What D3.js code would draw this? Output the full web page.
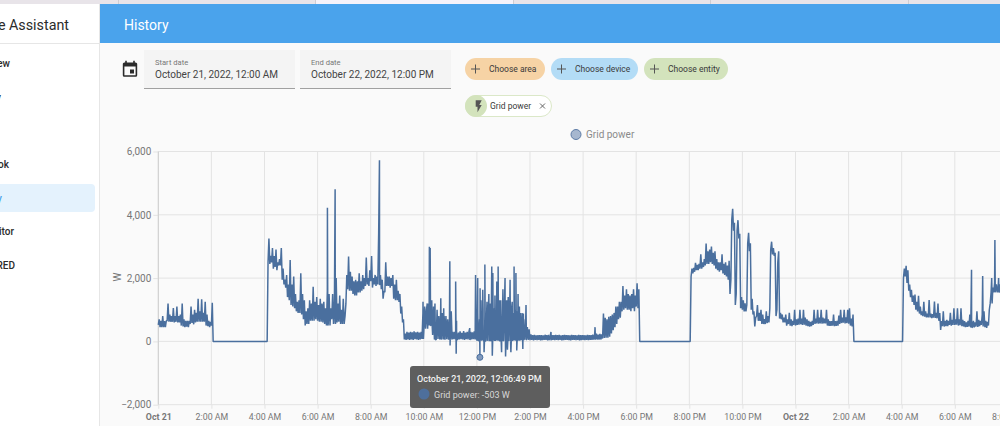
<!DOCTYPE html>
<html>
<head>
<meta charset="utf-8">
<title>History</title>
<script src="https://cdn.jsdelivr.net/npm/d3@7/dist/d3.min.js"></script>
<style>
  html, body { margin: 0; padding: 0; background: #fafafa; overflow: hidden; }
  svg { display: block; font-family: Roboto, sans-serif; }
</style>
</head>
<body>
<svg id="page" width="1000" height="426"></svg>
<script>
// Grid power in watts, reduced to the highest and lowest reading of each
// four-minute bucket; one row per hour starting at Oct 21 00:00.
const gridHigh = [
  700,650,800,640,650,1200,850,800,1050,800,1100,800,850,1200,700,
  650,650,650,1100,850,1000,900,1350,950,1330,900,1250,850,650,620,
  1220,0,0,0,0,0,0,0,0,0,0,0,0,0,0,
  0,0,0,0,0,0,0,0,0,0,0,0,0,0,0,
  0,0,3250,2700,2950,2700,2900,2500,2600,2950,2300,1950,2100,1800,2570,
  1800,2050,1500,1250,1300,2150,1500,1300,950,1050,1300,1200,1730,1250,1400,
  1150,1350,1200,1250,1050,1600,1500,1050,1500,1200,2000,1200,1450,1000,1350,
  800,2100,2680,2200,2050,1900,1950,1900,2150,1900,2100,2000,2650,2000,2250,
  2700,2000,2100,2050,3400,2100,1950,1600,2500,2050,2050,2000,2100,1800,1950,
  1600,1500,1100,700,250,300,280,300,290,320,290,300,280,300,900,
  1100,1000,1200,1100,1200,1100,350,1000,800,850,900,800,800,700,700,
  950,300,300,650,280,320,270,330,280,300,310,300,290,320,450,
  900,700,800,1000,850,900,950,1000,950,1050,950,1100,1000,1000,950,
  1000,950,1000,950,1000,900,1000,950,1000,900,900,700,500,450,380,
  220,200,210,190,200,195,200,190,210,195,205,190,200,195,205,
  195,205,190,200,210,195,200,190,205,195,200,190,210,200,195,
  200,190,205,195,200,210,195,250,210,240,220,880,750,700,780,
  800,850,900,1100,1100,1250,1250,1750,1450,1650,1500,1450,1500,1650,1450,
  1840,1650,0,0,0,0,0,0,0,0,0,0,0,0,0,
  0,0,0,0,0,0,0,0,0,0,0,0,0,0,0,
  0,2300,2320,2480,2420,2450,2750,2500,2600,3090,2850,2900,3000,2800,2850,
  2600,2500,2500,2750,2450,2500,2400,2550,1950,4190,3750,1500,3830,3400,1400,
  1300,1200,1150,3430,3100,1350,950,750,1150,900,1000,850,700,950,800,
  1050,3150,2950,2800,1000,2850,900,850,750,850,700,900,700,650,1000,
  700,720,1000,720,1000,750,700,650,620,650,1000,720,1000,750,1000,
  750,720,1000,700,640,640,850,640,650,820,1000,750,1000,760,1000,
  1050,720,850,0,0,0,0,0,0,0,0,0,0,0,0,
  0,0,0,0,0,0,0,0,0,0,0,0,0,0,0,
  0,2300,2390,2250,1800,1630,1450,1480,1250,1440,1100,950,1250,950,880,
  1310,880,860,1260,900,1200,900,640,950,650,680,650,900,680,1050,
  700,1050,700,1050,680,640,600,650,850,620,650,600,950,680,650,
  850,950,650,620,1000,1550,1700,1850,1800,1700,1800,1700,1650,1750,1750
];
const gridLow = [
  520,450,450,450,450,650,620,620,620,600,620,600,600,500,470,
  450,470,450,550,580,540,600,620,620,620,620,620,500,480,450,
  500,0,0,0,0,0,0,0,0,0,0,0,0,0,0,
  0,0,0,0,0,0,0,0,0,0,0,0,0,0,0,
  0,0,2500,2450,2500,2300,2350,2250,2400,2400,1950,1800,1700,1400,1300,
  1150,1100,1050,950,900,900,850,700,500,550,550,650,650,650,700,
  650,620,620,600,550,500,550,500,700,550,600,600,620,550,550,
  550,1200,1650,1600,1600,1500,1450,1450,1550,1550,1600,1650,1750,1800,1750,
  1900,1700,1800,1750,1800,1800,1650,1350,1550,1750,1750,1700,1750,1350,1300,
  1300,1250,880,600,60,50,60,50,60,50,70,60,50,60,80,
  300,400,550,500,500,200,60,50,80,60,80,60,50,70,50,
  60,60,70,60,50,60,70,60,50,70,60,50,60,70,60,
  20,30,20,40,0,20,30,10,30,20,10,30,20,0,20,
  20,30,20,10,30,20,30,20,30,20,40,40,50,50,50,
  40,50,35,45,40,50,35,40,45,50,35,40,45,50,40,
  45,40,50,35,40,45,50,40,35,45,50,40,45,35,40,
  45,40,50,40,45,50,55,60,60,55,60,90,110,120,120,
  150,250,350,450,550,700,750,950,1000,1050,1000,1000,950,1050,950,
  1100,1050,0,0,0,0,0,0,0,0,0,0,0,0,0,
  0,0,0,0,0,0,0,0,0,0,0,0,0,0,0,
  0,2050,2150,2200,2250,2250,2300,2300,2350,2400,2450,2450,2500,2450,2400,
  2300,2250,2200,2250,2150,2100,2050,1950,1500,3850,3500,1150,3500,3250,1050,
  1000,950,950,3100,2850,1000,850,470,800,650,650,550,550,550,580,
  600,2900,2750,2700,800,2500,720,700,600,600,500,550,500,480,520,
  500,520,530,540,520,530,500,480,470,480,520,550,570,560,570,
  560,570,570,500,490,490,500,480,490,500,550,580,590,570,580,
  560,500,470,0,0,0,0,0,0,0,0,0,0,0,0,
  0,0,0,0,0,0,0,0,0,0,0,0,0,0,0,
  0,2000,2050,1850,1600,1400,1250,1150,1000,950,880,830,800,780,760,
  760,760,740,750,740,730,650,360,480,470,480,480,520,500,520,
  520,530,500,510,480,470,450,460,470,440,450,440,470,460,480,
  520,470,450,430,500,1200,1550,1550,1600,1550,1550,1500,1450,1500,1550
];
const bucketsPerHour = 15;

// Short surges and dips that stand out from their bucket: [hour, watts].
const transients = [
  [6.37,4220],[6.66,4810],[8.33,5720],
  [9.97,1250],[10.13,1200],[10.21,2990],[10.24,2950],[10.30,1300],[10.42,1200],[10.64,1360],
  [10.75,1050],[10.98,2530],[10.99,-130],
  [11.20,1890],[11.22,-390],[11.73,420],
  [11.95,2100],[12.03,2000],[12.12,1680],[12.114,-503],[12.15,1300],[12.22,1630],[12.27,-340],[12.30,2430],
  [12.38,1250],[12.45,1500],[12.50,1200],[12.56,2370],[12.58,-450],[12.60,2160],[12.68,1450],[12.75,1890],
  [12.80,2370],[12.85,1300],[12.90,1300],[12.93,-340],[12.98,1650],[13.06,2000],[13.08,-480],[13.12,1300],
  [13.15,-260],[13.18,1400],[13.25,1950],[13.28,-340],[13.33,1250],[13.40,2370],[13.47,2160],[13.50,-290],
  [13.55,1500],[13.60,1100],[13.73,-240],[13.75,880],[13.85,1150],
  [14.79,300],[16.45,450],
  [30.63,2260],[31.05,2070],[31.39,2000],[31.51,3200],[31.65,2000]
];

const yTickValues = [-2000, 0, 2000, 4000, 6000];
const seriesName = "Grid power";
const hoverHour = 12 + 6 / 60 + 49 / 3600;
const hoverWatts = -503;
const hoverTitle = "October 21, 2022, 12:06:49 PM";

const sidebarItems = [["Overview", 10, 67], ["Energy", 1, 101], ["Logbook", 9, 168], ["History", 2, 202], ["File editor", 14, 235], ["Node-RED", 15, 269]];
const chipLabels = [
  ["Choose area", 465, 80, "#f6d3a5"],
  ["Choose device", 551, 87, "#b3dcf6"],
  ["Choose entity", 644, 84, "#d3e3bc"]
];
const dateFields = [
  ["Start date", "October 21, 2022, 12:00 AM", 144],
  ["End date", "October 22, 2022, 12:00 PM", 300]
];
const browserTabEdges = [118, 315, 513, 710, 908];

const lineColor = "#4a6f9e";
const gridColor = "#e3e3e3";
const svg = d3.select("#page");

/* ---------- application frame ---------- */
svg.append("rect").attr("width", 1000).attr("height", 426).attr("fill", "#fafafa");
svg.append("rect").attr("width", 1000).attr("height", 4).attr("fill", "#e8e4e9");
svg.append("rect").attr("x", 315).attr("width", 198).attr("height", 4).attr("fill", "#f5f2fa");
svg.selectAll(".tabEdge").data(browserTabEdges).join("rect")
  .attr("x", d => d).attr("width", 1).attr("height", 4).attr("fill", "#cfcdd2");

svg.append("rect").attr("y", 4).attr("width", 99).attr("height", 422).attr("fill", "#fff");
svg.append("rect").attr("x", 99).attr("y", 4).attr("width", 1).attr("height", 422).attr("fill", "#e6e6e6");
svg.append("rect").attr("y", 43).attr("width", 99).attr("height", 1).attr("fill", "#e6e6e6");
svg.append("rect").attr("x", 100).attr("y", 4).attr("width", 900).attr("height", 39).attr("fill", "#4aa3ec");

svg.append("text").attr("x", 69).attr("y", 29.5).attr("text-anchor", "end")
  .attr("font-size", 14.3).attr("fill", "#2b2b2b").text("Home Assistant");
svg.append("text").attr("x", 124).attr("y", 29.5)
  .attr("font-size", 14).attr("fill", "#fff").text("History");

svg.append("rect").attr("x", -6).attr("y", 184).attr("width", 101).attr("height", 28)
  .attr("rx", 4).attr("fill", "#e4f2fd");
svg.selectAll(".navItem").data(sidebarItems).join("text")
  .attr("x", d => d[1]).attr("y", d => d[2]).attr("text-anchor", "end")
  .attr("font-size", 10).attr("font-weight", 500)
  .attr("fill", d => d[0] === "History" ? "#4aa3ec" : "#2b2b2b")
  .text(d => d[0]);

/* ---------- date pickers ---------- */
svg.append("path").attr("transform", "translate(120.4,60) scale(0.8)").attr("fill", "#2b2b2b")
  .attr("d", "M17 12h-5v5h5v-5zM16 1v2H8V1H6v2H5c-1.11 0-1.99.9-1.99 2L3 19c0 1.1.89 2 2 2h14c1.1 0 2-.9 2-2V5c0-1.1-.9-2-2-2h-1V1h-2zm3 18H5V8h14v11z");
dateFields.forEach(([label, value, x]) => {
  svg.append("rect").attr("x", x).attr("y", 50).attr("width", 151).attr("height", 38).attr("fill", "#f4f4f4");
  svg.append("rect").attr("x", x).attr("y", 88).attr("width", 151).attr("height", 1).attr("fill", "#a0a0a0");
  svg.append("text").attr("x", x + 11).attr("y", 65).attr("font-size", 7.6).attr("fill", "#777").text(label);
  svg.append("text").attr("x", x + 11).attr("y", 78).attr("font-size", 10).attr("fill", "#444").text(value);
});

/* ---------- target chips ---------- */
chipLabels.forEach(([label, x, w, color]) => {
  svg.append("rect").attr("x", x).attr("y", 58).attr("width", w).attr("height", 22).attr("rx", 11).attr("fill", color);
  svg.append("path").attr("d", `M${x + 6} 69h9M${x + 10.5} 64.5v9`).attr("stroke", "#555").attr("fill", "none");
  svg.append("text").attr("x", x + 24).attr("y", 71.5).attr("font-size", 8.5).attr("fill", "#3a3a3a").text(label);
});
svg.append("rect").attr("x", 465.5).attr("y", 95.5).attr("width", 86).attr("height", 21).attr("rx", 10.5)
  .attr("fill", "#fff").attr("stroke", "#dbe8c8");
svg.append("circle").attr("cx", 476).attr("cy", 106).attr("r", 11).attr("fill", "#d3e3bc");
svg.append("path").attr("transform", "translate(471.5,99) scale(0.6)").attr("fill", "#555")
  .attr("d", "M7 2v11h3v9l7-12h-4l4-8z");
svg.append("text").attr("x", 490).attr("y", 108.5).attr("font-size", 8.5).attr("fill", "#3a3a3a").text(seriesName);
svg.append("path").attr("d", "M540 103.5l5 5M545 103.5l-5 5").attr("stroke", "#666").attr("fill", "none");

/* ---------- chart ---------- */
const t0 = Date.UTC(2022, 9, 21);
const hourToDate = h => new Date(t0 + h * 3600e3);
const x = d3.scaleUtc().domain([hourToDate(0), hourToDate(36)]).range([158.3, 158.3 + 36 * 26.55]);
const y = d3.scaleLinear().domain([-2000, 6000]).range([404.7, 151.5]);
const plotBottom = y(-2000);

// Horizontal grid and value axis.
const yAxis = svg.append("g").attr("transform", "translate(158.3,0)")
  .call(d3.axisLeft(y).tickValues(yTickValues).tickSize(5).tickPadding(2).tickFormat(d3.format(",")));
yAxis.select(".domain").remove();
yAxis.selectAll("line").attr("stroke", gridColor);
yAxis.selectAll("text").attr("font-size", 10).attr("font-family", "Roboto, sans-serif").attr("fill", "#777");
svg.append("g").selectAll("line").data(yTickValues).join("line")
  .attr("x1", 158.3).attr("x2", 1000).attr("y1", d => y(d)).attr("y2", d => y(d))
  .attr("stroke", gridColor);

// Vertical grid and time axis; midnight ticks carry the bold date.
const timeTicks = d3.utcHour.every(2).range(hourToDate(0), hourToDate(33));
const hourLabel = d3.utcFormat("%-I:%M %p");
const dayLabel = d3.utcFormat("%b %-d");
const isMidnight = d => d.getUTCHours() === 0;
const xAxis = svg.append("g").attr("transform", `translate(0,${plotBottom})`)
  .call(d3.axisBottom(x).tickValues(timeTicks).tickSize(4).tickPadding(5)
    .tickFormat(d => isMidnight(d) ? dayLabel(d) : hourLabel(d)));
xAxis.select(".domain").remove();
xAxis.selectAll("line").attr("stroke", gridColor);
xAxis.selectAll("text").attr("font-size", 8.8).attr("font-family", "Roboto, sans-serif")
  .attr("fill", "#777").attr("font-weight", d => isMidnight(d) ? 700 : 400);
svg.append("g").selectAll("line").data(timeTicks).join("line")
  .attr("x1", d => x(d)).attr("x2", d => x(d)).attr("y1", 151.5).attr("y2", plotBottom)
  .attr("stroke", gridColor);
svg.append("line").attr("x1", 158.3).attr("x2", 158.3).attr("y1", 151.5).attr("y2", plotBottom).attr("stroke", "#cfcfcf");

svg.append("text").attr("transform", "translate(121,277) rotate(-90)").attr("text-anchor", "middle")
  .attr("font-size", 10).attr("fill", "#777").text("W");

// Legend above the plot.
svg.append("circle").attr("cx", 576).attr("cy", 134.5).attr("r", 5).attr("fill", "#a6b7cf").attr("stroke", "#5c7ba6");
svg.append("text").attr("x", 586).attr("y", 138).attr("font-size", 10).attr("fill", "#8a8a8a").text(seriesName);

// Each bucket contributes its low then its high; transients rise from the bucket's low and return to it.
const readings = [];
gridHigh.forEach((high, i) => {
  readings.push([i / bucketsPerHour, gridLow[i]]);
  readings.push([(i + 0.5) / bucketsPerHour, high]);
});
transients.forEach(([h, w]) => {
  const bucketLow = gridLow[Math.floor(h * bucketsPerHour)];
  readings.push([h, w], [h + 0.015, bucketLow]);
});
readings.sort((a, b) => a[0] - b[0]);

const line = d3.line()
  .x(d => x(hourToDate(d[0])))
  .y(d => y(d[1]));
svg.append("path").datum(readings).attr("d", line)
  .attr("fill", "none").attr("stroke", lineColor).attr("stroke-width", 1.5).attr("stroke-linejoin", "bevel");

/* ---------- hovered point and tooltip ---------- */
svg.append("circle").attr("cx", x(hourToDate(hoverHour))).attr("cy", y(hoverWatts)).attr("r", 3)
  .attr("fill", "#8099bd").attr("stroke", lineColor);
svg.append("rect").attr("x", 410).attr("y", 366).attr("width", 140).attr("height", 42).attr("rx", 3)
  .attr("fill", "#5e5e5e");
svg.append("text").attr("x", 417).attr("y", 381.5).attr("font-size", 9).attr("font-weight", 500)
  .attr("fill", "#f2f2f2").text(hoverTitle);
svg.append("circle").attr("cx", 424).attr("cy", 394).attr("r", 5.5).attr("fill", "#4e6f9c");
svg.append("text").attr("x", 434).attr("y", 397.5).attr("font-size", 9).attr("fill", "#d8d8d8")
  .text(`${seriesName}: ${hoverWatts} W`);
</script>
</body>
</html>
